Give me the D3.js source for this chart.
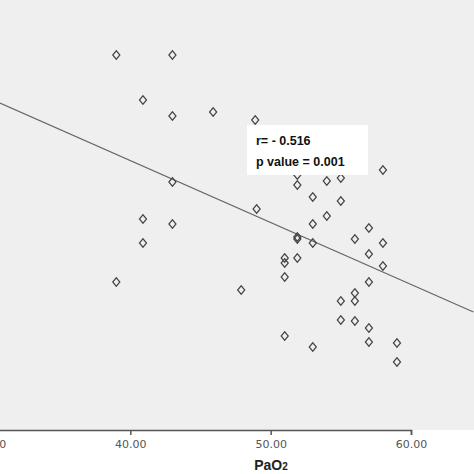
<!DOCTYPE html><html><head><script src="https://cdn.jsdelivr.net/npm/d3@7"></script>
<style>body{margin:0;background:#fff}</style></head><body><svg id="c" width="474" height="474"></svg><script>
const xTicks=[30,40,50,60];
const xVals=[39.0,43.0,40.9,43.0,45.9,48.9,58.0,51.9,51.9,54.0,55.0,53.0,55.0,49.0,54.0,53.0,57.0,51.9,51.9,56.0,58.0,53.0,57.0,51.0,51.0,51.9,58.0,51.0,57.0,47.9,56.0,43.0,40.9,43.0,40.9,39.0,56.0,55.0,56.0,55.0,57.0,51.0,53.0,57.0,59.0,59.0];
const yVals=[375,375,330,314,318,310,260,255,245,249,252,233,229,221,214,206,202,193,191,191,187,187,176,172,167,172,164,153,148,140,137,248,211,206,187,148,129,129,109,110,102,94,83,88,87,68];
const line={x:[30.71,64.45],y:[327,118]};
const svg=d3.select("#c");
const x=d3.scaleLinear().domain([30,60]).range([-10,411]);
const y=d3.scaleLinear().domain([0,430]).range([430,0]);
svg.append("rect").attr("width",474).attr("height",430).attr("fill","#efefef");
svg.append("line").attr("x1",x(line.x[0])).attr("y1",y(line.y[0])).attr("x2",x(line.x[1])).attr("y2",y(line.y[1])).attr("stroke","#666").attr("stroke-width",1.2);
const sym=d3.symbol().type(d3.symbolDiamond).size(22);
svg.selectAll("path.p").data(xVals).join("path").attr("class","p").attr("d",sym)
 .attr("transform",(d,i)=>`translate(${x(d)},${y(yVals[i])}) scale(1.4,1)`).attr("fill","none").attr("stroke","#444").attr("stroke-width",1);
svg.append("rect").attr("x",247).attr("y",125).attr("width",121).attr("height",50).attr("fill","#fff");
const tx=svg.append("text").attr("font-family","Liberation Sans, Arial").attr("font-weight","bold").attr("font-size",12.5).attr("fill","#111");
tx.append("tspan").attr("x",256).attr("y",145).text("r= - 0.516");
tx.append("tspan").attr("x",256).attr("y",166).text("p value = 0.001");
const ax=svg.append("g").attr("transform","translate(0,430)").call(d3.axisBottom(x).tickValues(xTicks).tickFormat(d3.format(".2f")).tickSize(5));
ax.select(".domain").attr("stroke","#555").attr("stroke-width",1.5);
ax.selectAll("line").attr("stroke","#555").attr("stroke-width",1.5);
ax.selectAll("text").attr("font-family","DejaVu Sans").attr("font-size",11).attr("fill","#555").attr("dy","0.9em");
const lab=svg.append("text").attr("x",271).attr("y",470).attr("text-anchor","middle").attr("font-family","Liberation Sans, Arial").attr("font-weight","bold").attr("font-size",14).attr("fill","#222");
lab.append("tspan").text("PaO");lab.append("tspan").attr("font-size",10).text("2");
</script></body></html>
